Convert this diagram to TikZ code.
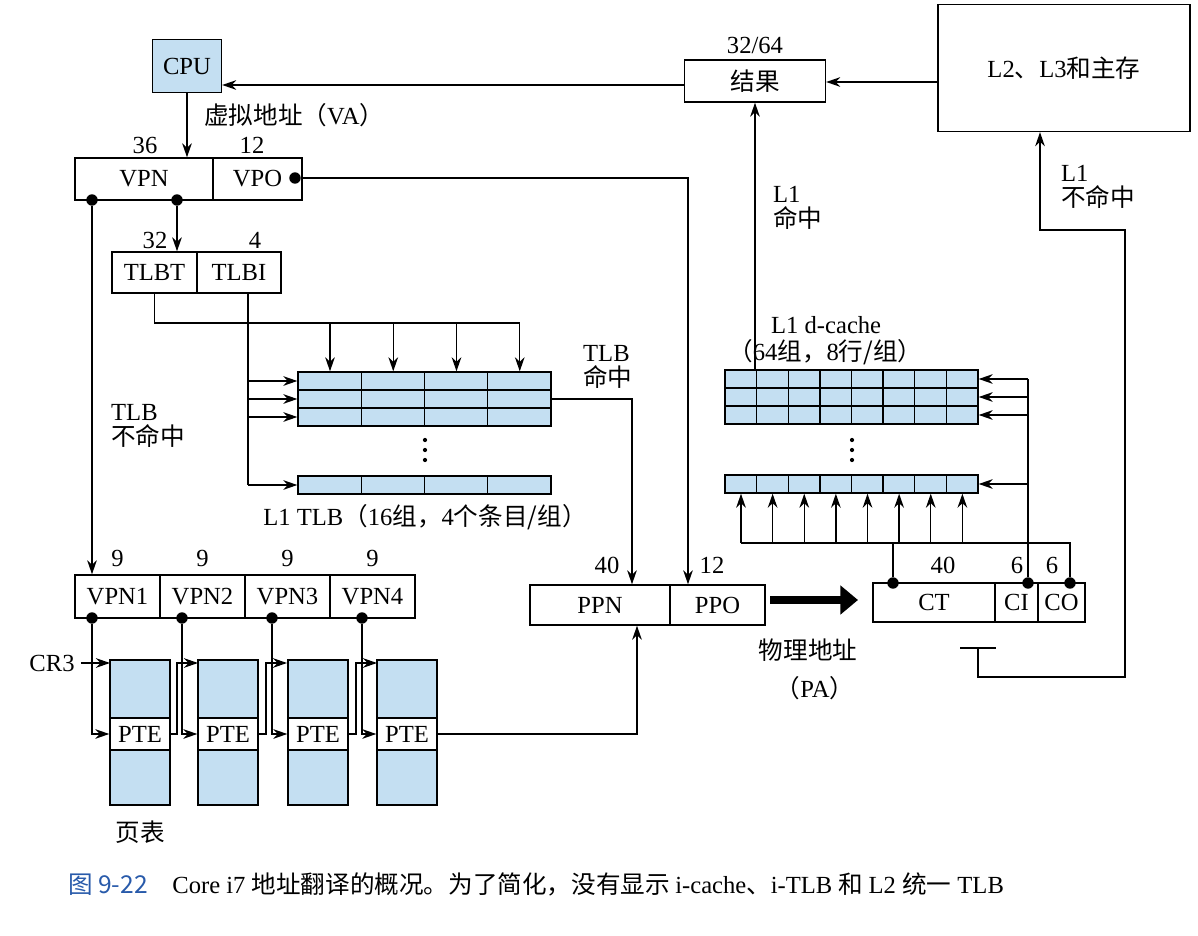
\documentclass[tikz,border=0pt]{standalone}
\usepackage{fontspec}
\setmainfont{Liberation Serif}
\newfontfamily\cjk{Noto Sans CJK SC}
\usetikzlibrary{arrows.meta,positioning}
\definecolor{cellblue}{RGB}{196,223,242}
\definecolor{capblue}{RGB}{40,90,170}
\begin{document}
\begin{tikzpicture}[x=0.02cm,y=-0.02cm,
	font=\fontsize{14}{16}\selectfont,
	Field/.style={draw, thick, minimum height=0.84cm, inner sep=0pt},
	arrow/.style={->,>={Stealth[length=8pt,width=5.5pt]}},
	dot/.style={circle, fill, inner sep=0pt, minimum size=6.5pt},
	Row/.style={draw, thick, fill=cellblue, minimum height=0.36cm, inner sep=0pt}]
	\useasboundingbox (0,0) rectangle (1198,936);
	
	% top row
	\node (cpu) [Field, fill=cellblue, minimum width=1.38cm, minimum height=1.06cm] at (187,66) {CPU};
	\node (res) [Field, minimum width=2.82cm] at (755,81) {\cjk 结果};
	\node at (755,45) {32/64};
	\node (mem) [Field, minimum width=5.04cm, minimum height=2.54cm] at (1064,68) {L2{\cjk 、}L3{\cjk 和主存}};
	\draw [thick, arrow] (mem.west |- 0,82) -- (res.east |- 0,82);
	\draw [thick, arrow] (res.west |- 0,85) -- (cpu.east |- 0,85);
	
	% virtual address
	\node (vpn) [Field, minimum width=2.76cm] at (144,179) {VPN};
	\node (vpo) [Field, minimum width=1.78cm] at (257.5,179) {VPO};
	\node at (145,145) {36};
	\node at (252,145) {12};
	\draw [thick, arrow] (cpu.south) -- (cpu.south |- vpn.north);
	\node [anchor=west] at (198,115) {{\cjk 虚拟地址（}VA{\cjk ）}};
	
	\node (tlbt) [Field, minimum width=1.70cm, minimum height=0.82cm] at (154.5,272.5) {TLBT};
	\node (tlbi) [Field, minimum width=1.68cm, minimum height=0.82cm] at (239,272.5) {TLBI};
	\node at (155,240) {32};
	\node at (255,240) {4};
	\node (d1) [dot] at (92,200) {};
	\node (d2) [dot] at (177,200) {};
	\node (d3) [dot] at (295,178) {};
	\draw [thick, arrow] (d2) -- (d2 |- tlbt.north);
	
	% L1 TLB
	\foreach \r/\y in {1/381, 2/399, 3/417, 4/485} {
		\node (t\r) [Row, minimum width=5.06cm] at (424.5,\y) {};
		\foreach \c in {1,2,3} \draw [thick] (298+63.25*\c,\y-9) -- (298+63.25*\c,\y+9);
		\draw [thick, arrow] (248,\y) -- (t\r.west |- 0,\y);
	}
	\draw [thick] (tlbi.south -| 248,0) -- (248,485);
	\draw [thick] (tlbt.south) -- (tlbt.south |- 0,323) -- (520,323);
	\foreach \c in {0,...,3} \draw [thick, arrow] (330+63.25*\c,323) -- (t1.north -| 330+63.25*\c,0);
	\foreach \y in {440,450,460} \fill (425,\y) circle (1.2pt);
	\node at (425,517) {L1 TLB{\cjk （}16{\cjk 组，}4{\cjk 个条目/组）}};
	\node [align=left, anchor=west] at (577,367) {TLB\\[-2pt]\cjk 命中};
	\node [align=left, anchor=west] at (105,426) {TLB\\[-2pt]\cjk 不命中};
	
	% page walk
	\foreach \i/\x/\w in {1/117.5/VPN1, 2/202.5/VPN2, 3/287.5/VPN3, 4/372.5/VPN4} {
		\node (v\i) [Field, minimum width=1.7cm, minimum height=0.86cm] at (\x,596.5) {\w};
		\node at (\x,558) {9};
	}
	\draw [thick, arrow] (d1) -- (d1 |- v1.north);
	\foreach \i/\x/\dx in {1/140/92, 2/228/182, 3/318/272, 4/407/362} {
		\draw [thick, fill=cellblue] (\x-30,660) rectangle (\x+30,805);
		\node (p\i) [draw, thick, fill=white, minimum width=1.2cm, minimum height=0.64cm, inner sep=0pt] at (\x,734) {PTE};
		\node (vd\i) [dot] at (\dx,618) {};
		\draw [thick, arrow] (vd\i) -- (vd\i |- p\i.west) -- (p\i.west);
	}
	\node (cr) at (52,663) {CR3};
	\draw [thick, arrow] (cr.east) -- (110,663);
	\foreach \a/\b/\x in {1/2/177, 2/3/266, 3/4/356}
		\draw [thick, arrow] (p\a.east) -- (\x,734) -- (\x,663) -- (\x+21,663);
	\node at (140,832) {\cjk 页表};
	
	% physical address
	\node (ppn) [Field, minimum width=2.8cm, minimum height=0.8cm] at (600,605) {PPN};
	\node (ppo) [Field, minimum width=1.9cm, minimum height=0.8cm] at (717.5,605) {PPO};
	\node at (607,565) {40};
	\node at (712,565) {12};
	\draw [thick, arrow] (d3) -- (688,178) -- (ppo.north -| 688,0);
	\draw [thick, arrow] (t2.east) -- (632,399) -- (ppn.north -| 632,0);
	\draw [thick, arrow] (p4.east) -- (637,734) -- (ppn.south -| 637,0);
	\draw [line width=5pt, -{Triangle[length=10pt,width=16pt]}] (770,600) -- (858,600);
	\node at (808,650) {\cjk 物理地址};
	\node at (815,688) {{\cjk （}PA{\cjk ）}};
	
	% L1 d-cache
	\node (ct) [Field, minimum width=2.44cm, minimum height=0.78cm] at (934,602.5) {CT};
	\node (ci) [Field, minimum width=0.86cm, minimum height=0.78cm] at (1016.5,602.5) {CI};
	\node (co) [Field, minimum width=0.94cm, minimum height=0.78cm] at (1061.5,602.5) {CO};
	\node at (943,565) {40};
	\node at (1017,565) {6};
	\node at (1052,565) {6};
	\foreach \r/\y in {1/379, 2/397, 3/415, 4/484} {
		\node (k\r) [Row, minimum width=5.06cm] at (851.5,\y) {};
		\foreach \c in {1,...,7} \draw [thick] (725+31.625*\c,\y-9) -- (725+31.625*\c,\y+9);
		\draw [thick, arrow] (1028,\y) -- (k\r.east |- 0,\y);
	}
	\foreach \y in {440,450,460} \fill (852,\y) circle (1.2pt);
	\node (cid) [dot] at (1028,583) {};
	\node (ctd) [dot] at (893,583) {};
	\node (cod) [dot] at (1070,583) {};
	\draw [thick] (cid) -- (1028,379);
	\draw [thick] (ctd) -- (893,543);
	\draw [thick] (cod) -- (1070,543) -- (741,543);
	\foreach \c in {0,...,7} \draw [thick, arrow] (741+31.625*\c,543) -- (k4.south -| 741+31.625*\c,0);
	\node [anchor=west] at (765,325) {L1 d-cache};
	\node [anchor=west] at (722,352) {{\cjk （}64{\cjk 组，}8{\cjk 行/组）}};
	\draw [thick, arrow] (k1.north -| 755,0) -- (res.south -| 755,0);
	\node [align=left, anchor=west] at (767,208) {L1\\[-2pt]\cjk 命中};
	
	% L1 miss
	\coordinate (miss) at (978,648);
	\draw [thick] (960,648) -- (996,648);
	\draw [thick, arrow] (miss) -- (978,677) -- (1125,677) -- (1125,230) -- (1040,230) -- (mem.south -| 1040,0);
	\node [align=left, anchor=west] at (1055,187) {L1\\[-2pt]\cjk 不命中};
	
	% caption
	\node [anchor=west] (cap) at (62,884) {{\cjk\color{capblue}图 9-22}\quad Core i7 {\cjk 地址翻译的概况。为了简化，没有显示 }i-cache{\cjk 、}i-TLB {\cjk 和 }L2 {\cjk 统一} TLB};
\end{tikzpicture}
\end{document}
